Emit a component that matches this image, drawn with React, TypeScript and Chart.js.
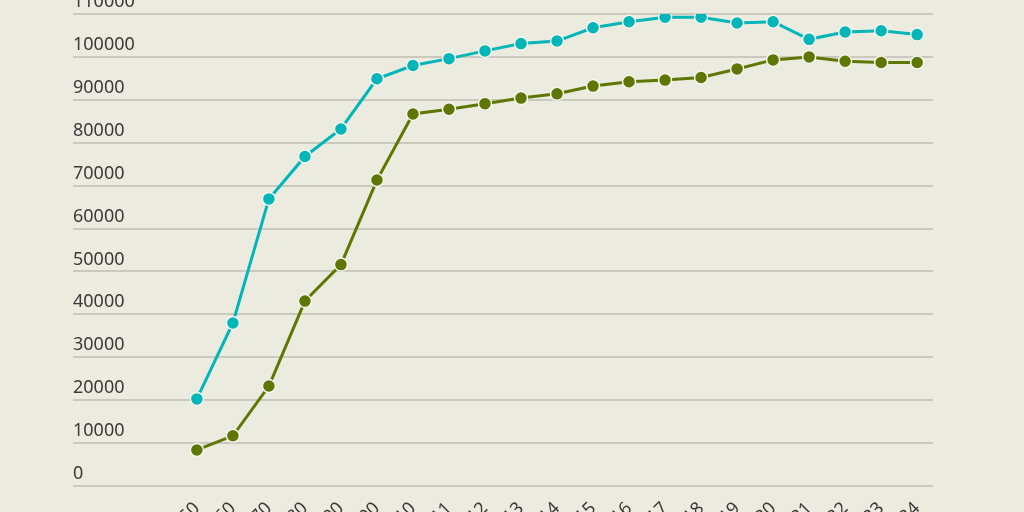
import { useEffect, useRef } from "react";
import Chart from "chart.js/auto";
import type { ChartConfiguration } from "chart.js";

const YEARS = [
  "1950", "1960", "1970", "1980", "1990", "2000", "2010", "2011", "2012", "2013", "2014",
  "2015", "2016", "2017", "2018", "2019", "2020", "2021", "2022", "2023", "2024",
];

// upper (turquoise) series
const SERIES_A = [
  20300, 38000, 66900, 76800, 83200, 94900, 98000, 99600, 101400, 103100, 103700,
  106800, 108200, 109250, 109250, 107900, 108200, 104100, 105800, 106100, 105200,
];

// lower (olive) series
const SERIES_B = [
  8400, 11700, 23300, 43100, 51600, 71300, 86700, 87800, 89100, 90400, 91400,
  93200, 94200, 94600, 95200, 97200, 99300, 100000, 99000, 98700, 98700,
];

const Y_TICKS = [0, 10000, 20000, 30000, 40000, 50000, 60000, 70000, 80000, 90000, 100000, 110000];

const BG = "#ecebe0";
const FONT = { family: "'Noto Sans', sans-serif", size: 18 };

export default function App() {
  const canvasRef = useRef<HTMLCanvasElement | null>(null);
  const chartRef = useRef<Chart | null>(null);

  useEffect(() => {
    document.body.style.margin = "0";
    document.body.style.background = BG;
    if (!canvasRef.current) return;

    const toPoints = (vals: number[]) => vals.map((v, i) => ({ x: i, y: v }));

    const config: ChartConfiguration<"line"> = {
      type: "line",
      data: {
        datasets: [
          {
            data: toPoints(SERIES_A),
            borderColor: "#00b6b8",
            backgroundColor: "#00b6b8",
            borderWidth: 3,
            pointRadius: 6.5,
            pointBorderWidth: 1.5,
            pointBorderColor: "#f6f5ee",
            pointBackgroundColor: "#00b6b8",
            tension: 0,
          },
          {
            data: toPoints(SERIES_B),
            borderColor: "#5d7700",
            backgroundColor: "#5d7700",
            borderWidth: 3,
            pointRadius: 6.5,
            pointBorderWidth: 1.5,
            pointBorderColor: "#f6f5ee",
            pointBackgroundColor: "#5d7700",
            tension: 0,
          },
        ],
      },
      options: {
        animation: false,
        responsive: true,
        maintainAspectRatio: false,
        layout: { padding: { left: 73, right: 91, top: 14, bottom: 0 } },
        plugins: {
          legend: { display: false },
          tooltip: { enabled: false },
        },
        scales: {
          x: {
            type: "linear",
            min: -3.44,
            max: 20.44,
            grid: { display: false },
            border: { display: false },
            afterBuildTicks: (scale) => {
              scale.ticks = YEARS.map((_, i) => ({ value: i }));
            },
            afterFit: (scale) => {
              scale.height = 60;
            },
            ticks: {
              autoSkip: false,
              minRotation: 45,
              maxRotation: 45,
              padding: 4,
              color: "#3a3a3a",
              font: FONT,
              callback: (v) => YEARS[Number(v)] ?? "",
            },
          },
          y: {
            min: 0,
            max: 110000,
            afterBuildTicks: (scale) => {
              scale.ticks = Y_TICKS.map((v) => ({ value: v }));
            },
            grid: { color: "#cbc9bd", lineWidth: 2, drawTicks: false },
            border: { display: false },
            ticks: {
              mirror: true,
              padding: 0,
              labelOffset: -12,
              color: "#3a3a3a",
              font: FONT,
              callback: (v) => String(v),
            },
          },
        },
      },
    };

    chartRef.current = new Chart(canvasRef.current, config);
    return () => {
      chartRef.current?.destroy();
      chartRef.current = null;
    };
  }, []);

  return (
    <div style={{ width: 1024, height: 546, background: BG, position: "relative" }}>
      <canvas ref={canvasRef} />
    </div>
  );
}
